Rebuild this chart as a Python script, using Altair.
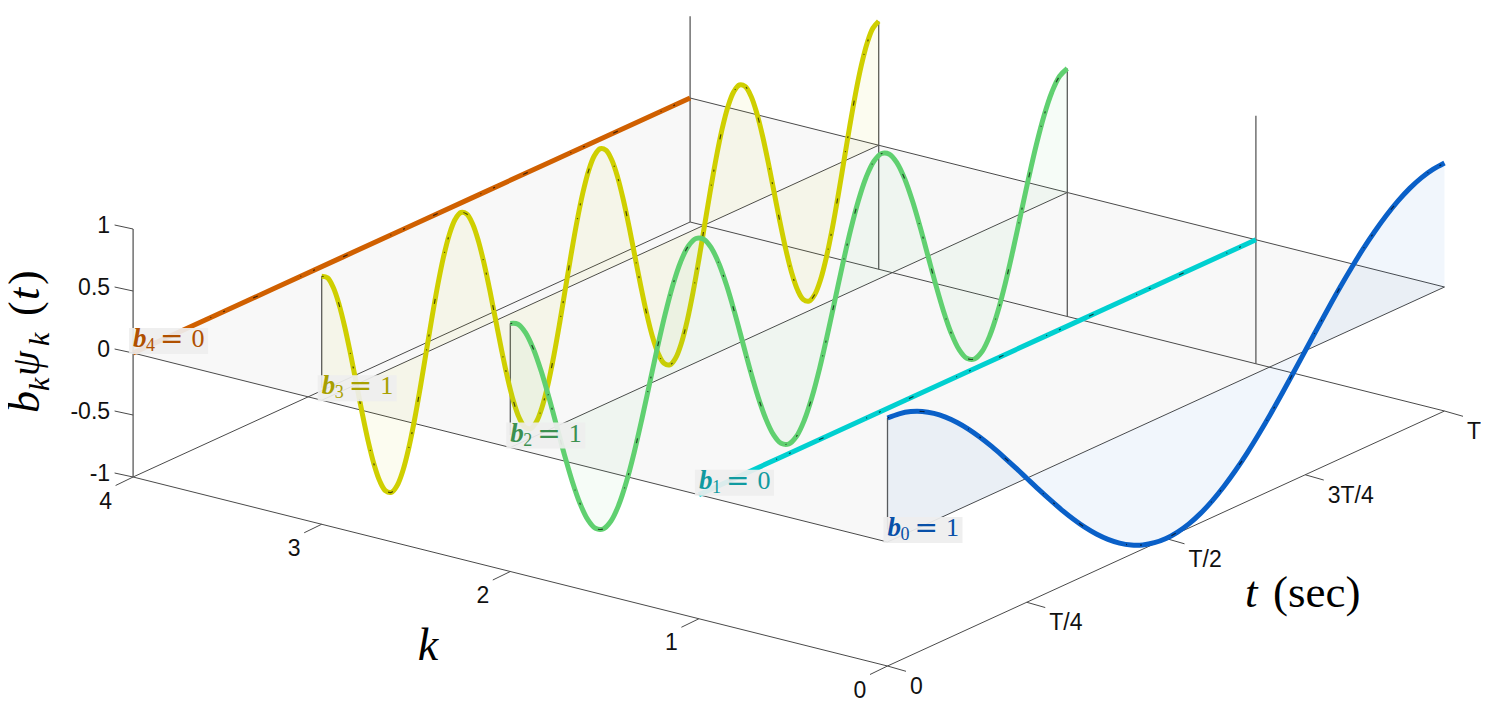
import altair as alt
import numpy as np
import pandas as pd

# ---- values ----
# sampled evenly over 0..T
z_k0 = [1.0,.991,.966,.924,.866,.793,.707,.609,.5,.383,.259,.131,0,-.131,-.259,-.383,-.5,-.609,-.707,-.793,-.866,-.924,-.966,-.991,
        -1.0,-.991,-.966,-.924,-.866,-.793,-.707,-.609,-.5,-.383,-.259,-.131,0,.131,.259,.383,.5,.609,.707,.793,.866,.924,.966,.991,1.0]
z_k1 = [0,0,0,0,0]
one_period = [1.0,.966,.866,.707,.5,.259,0,-.259,-.5,-.707,-.866,-.966,-1.0,-.966,-.866,-.707,-.5,-.259,0,.259,.5,.707,.866,.966]
z_k2 = one_period * 3 + [1.0]
z_k3 = one_period * 4 + [1.0]
z_k4 = [0,0,0,0,0]
bits = [1, 0, 1, 1, 0]
series = {0: z_k0, 1: z_k1, 2: z_k2, 3: z_k3, 4: z_k4}
line_colors = {0: "#0a60c8", 1: "#00d0d0", 2: "#60d070", 3: "#cfcf00", 4: "#d06000"}
text_colors = {0: "#0850a8", 1: "#109aa0", 2: "#3c9050", 3: "#a8a000", 4: "#b05000"}
z_ticks = [("1", 1), ("0.5", .5), ("0", 0), ("-0.5", -.5), ("-1", -1)]
k_ticks = [("4", 4), ("3", 3), ("2", 2), ("1", 1), ("0", 0)]
t_ticks = [("0", 0), ("T/4", .25), ("T/2", .5), ("3T/4", .75), ("T", 1)]
post_tops = {4: .66, 3: 1, 2: 1, 1: 1}

# ---- oblique view of the (t, k, z) box ----
X0, TX, KX = 887.5, 557.0, -188.6
Y0, TY, KY, ZY = 666.0, -255.0, -47.25, 124.0
def px(t, k): return X0 + TX * t + KX * k
def py(t, k, z): return Y0 + TY * t + KY * k - ZY * (z + 1)

xs = alt.Scale(domain=[8, 1481], zero=False, nice=False)
ys = alt.Scale(domain=[705, 8], zero=False, nice=False)
X = alt.X("x:Q", scale=xs, axis=None)
Y = alt.Y("y:Q", scale=ys, axis=None)

def seg(a, b):
    return dict(x=px(a[0], a[1]), y=py(*a), x2=px(b[0], b[1]), y2=py(*b))

def rules(rows, color="#4a4a4a", w=1.0):
    return alt.Chart(pd.DataFrame(rows)).mark_rule(color=color, strokeWidth=w).encode(
        x=X, y=Y, x2="x2:Q", y2="y2:Q")

def text(rows, **kw):
    return alt.Chart(pd.DataFrame(rows)).mark_text(**kw).encode(x=X, y=Y, text="s:N")

layers = []

# z = 0 plane
cx = [px(0, 4), px(1, 4), px(0, 0), px(1, 0)]
top = np.interp(cx, [px(0, 4), px(1, 4), px(1, 0)], [py(0, 4, 0), py(1, 4, 0), py(1, 0, 0)])
bot = np.interp(cx, [px(0, 4), px(0, 0), px(1, 0)], [py(0, 4, 0), py(0, 0, 0), py(1, 0, 0)])
plane = pd.DataFrame(dict(x=cx, y=top, y0=bot))
layers.append(alt.Chart(plane).mark_area(color="#f8f8f8").encode(x=X, y=Y, y2="y0:Q"))

# box edges on the floor and on the z = 0 plane
edges = [seg((0, 0, -1), (0, 4, -1)), seg((1, 0, -1), (1, 4, -1)),
         seg((0, 0, -1), (1, 0, -1)), seg((0, 4, -1), (1, 4, -1)),
         seg((0, 0, 0), (0, 4, 0)), seg((1, 0, 0), (1, 4, 0)),
         seg((0, 0, 0), (1, 0, 0)), seg((0, 2, 0), (1, 2, 0)), seg((0, 3, 0), (1, 3, 0))]
layers.append(rules(edges))

# posts
posts = [seg((1, k, -1), (1, k, zt)) for k, zt in post_tops.items()]
posts += [seg((0, k, .1), (0, k, 1)) for k in (0, 2, 3)]
posts.append(seg((0, 4, -1), (0, 4, 1)))
layers.append(rules(posts, color="#5a5a5a", w=1.3))

# ticks
TICK = 18.5
tk = []
for _, z in z_ticks:
    tk.append(dict(x=px(0, 4), y=py(0, 4, z), x2=px(0, 4) - TICK, y2=py(0, 4, z) - 4))
for _, k in k_ticks:
    tk.append(dict(x=px(0, k), y=py(0, k, -1), x2=px(0, k) - 17.5, y2=py(0, k, -1) + 8.5))
for _, t in t_ticks:
    tk.append(dict(x=px(t, 0), y=py(t, 0, -1), x2=px(t, 0) + TICK, y2=py(t, 0, -1) + 5.3))
layers.append(rules(tk))

# curves, far to near
for k in (4, 3, 2, 1, 0):
    z = series[k]
    n = len(z) - 1
    tv = [i / n for i in range(n + 1)]
    df = pd.DataFrame(dict(x=[px(t, k) for t in tv],
                           y=[py(t, k, v) for t, v in zip(tv, z)],
                           y0=[py(t, k, 0) for t in tv]))
    if bits[k]:
        layers.append(alt.Chart(df).mark_area(color=line_colors[k], opacity=.06, interpolate="catmull-rom")
                      .encode(x=X, y=Y, y2="y0:Q"))
    layers.append(alt.Chart(df).mark_line(color=line_colors[k], strokeWidth=5, interpolate="catmull-rom",
                                          strokeCap="butt").encode(x=X, y=Y))
    layers.append(alt.Chart(df).mark_line(color="#000000", strokeWidth=1.2, opacity=.65, interpolate="catmull-rom",
                                          strokeDash=[2, 31, 5, 47, 1, 13]).encode(x=X, y=Y))

# bit labels
for k in (4, 3, 2, 1, 0):
    bx, by = px(0, k), py(0, k, 0)
    layers.append(alt.Chart(pd.DataFrame([dict(x=bx - 4, x2=bx + 75, y=by + 1, y2=by - 25)]))
                  .mark_rect(color="#eeeeee", opacity=.92).encode(x=X, y=Y, x2="x2:Q", y2="y2:Q"))
    col = text_colors[k]
    layers.append(text([dict(x=bx, y=by - 6, s="b")], font="Liberation Serif", fontStyle="italic",
                       fontWeight="bold", fontSize=27, color=col, align="left", baseline="alphabetic"))
    layers.append(text([dict(x=bx + 13, y=by - 2, s=str(k))], font="Liberation Serif", fontSize=18,
                       color=col, align="left", baseline="alphabetic"))
    layers.append(text([dict(x=bx + 27, y=by - 5, s="=")], font="DejaVu Serif", fontSize=28,
                       color=col, align="left", baseline="alphabetic"))
    layers.append(text([dict(x=bx + 58.5, y=by - 6, s=str(bits[k]))], font="Liberation Serif", fontSize=26,
                       color=col, align="left", baseline="alphabetic"))

# tick labels
SANS = dict(font="Liberation Sans", fontSize=23, color="#111111", baseline="middle")
layers.append(text([dict(x=px(0, 4) - 23, y=py(0, 4, z) - 3.5, s=s) for s, z in z_ticks], align="right", **SANS))
layers.append(text([dict(x=px(0, k) - 27.5, y=py(0, k, -1) + 24.5, s=s) for s, k in k_ticks], align="center", **SANS))
layers.append(text([dict(x=px(t, 0) + 22.5, y=py(t, 0, -1) + 21, s=s) for s, t in t_ticks], align="left", **SANS))
# axis titles
SER = dict(font="Liberation Serif", color="#000000", baseline="alphabetic")
layers.append(text([dict(x=428, y=660, s="k")], fontStyle="italic", fontSize=46, align="center", **SER))
layers.append(text([dict(x=1245, y=607, s="t")], fontStyle="italic", fontSize=45, align="left", **SER))
layers.append(text([dict(x=1273, y=607, s="(sec)")], fontSize=45, align="left", **SER))
ROT = dict(angle=270, align="left", **SER)
layers.append(text([dict(x=39, y=413, s="b")], fontStyle="italic", fontSize=44, **ROT))
layers.append(text([dict(x=49, y=391, s="k")], fontStyle="italic", fontSize=30, **ROT))
layers.append(text([dict(x=39, y=376, s="ψ")], fontStyle="italic", fontSize=40, **ROT))
layers.append(text([dict(x=49, y=346, s="k")], fontStyle="italic", fontSize=30, **ROT))
layers.append(text([dict(x=39, y=316, s="(")], fontSize=44, **ROT))
layers.append(text([dict(x=39, y=300, s="t")], fontStyle="italic", fontSize=44, **ROT))
layers.append(text([dict(x=39, y=285, s=")")], fontSize=44, **ROT))

chart = alt.layer(*layers).properties(
    width=1473, height=697, padding=0, autosize=alt.AutoSizeParams(type="none")
).configure_view(stroke=None)
chart.save("out.html", embed_options={"renderer": "svg", "actions": False})
